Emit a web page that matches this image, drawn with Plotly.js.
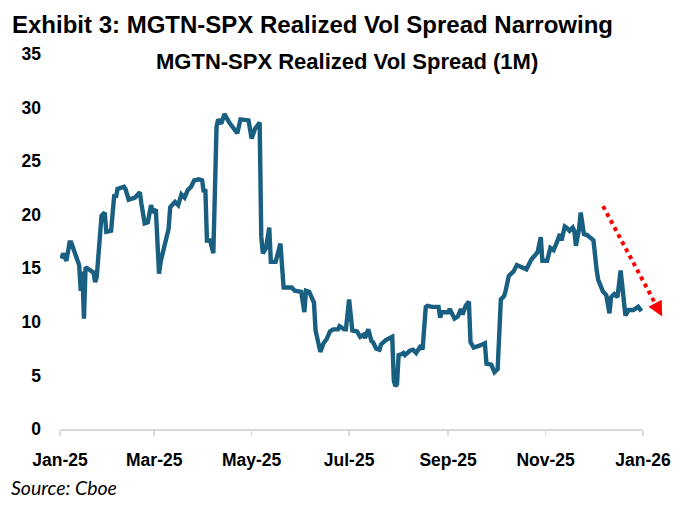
<!DOCTYPE html>
<html>
<head>
<meta charset="utf-8">
<script src="https://cdn.plot.ly/plotly-3.0.1.min.js"></script>
<style>
  html, body { margin: 0; padding: 0; background: #ffffff; }
  #chart { width: 688px; height: 516px; }
</style>
</head>
<body>
<div id="chart"></div>
<script>
// One-month realized vol spread, MGTN minus SPX
const dates = [
  '2025-01-02','2025-01-03','2025-01-05','2025-01-07','2025-01-08','2025-01-11','2025-01-13','2025-01-14',
  '2025-01-15','2025-01-16','2025-01-17','2025-01-20','2025-01-22','2025-01-23','2025-01-24','2025-01-27',
  '2025-01-29','2025-01-30','2025-02-02','2025-02-04','2025-02-05','2025-02-06','2025-02-10','2025-02-11',
  '2025-02-13','2025-02-17','2025-02-20','2025-02-21','2025-02-23','2025-02-25','2025-02-27','2025-02-28',
  '2025-03-02','2025-03-04','2025-03-05','2025-03-10','2025-03-11','2025-03-14','2025-03-16','2025-03-18',
  '2025-03-20','2025-03-22','2025-03-24','2025-03-26','2025-03-29','2025-03-31','2025-04-01','2025-04-02',
  '2025-04-03','2025-04-05','2025-04-07','2025-04-09','2025-04-10','2025-04-12','2025-04-14','2025-04-17',
  '2025-04-22','2025-04-24','2025-04-28','2025-04-29','2025-05-01','2025-05-03','2025-05-06','2025-05-07',
  '2025-05-08','2025-05-10','2025-05-12','2025-05-13','2025-05-16','2025-05-19','2025-05-21','2025-05-26',
  '2025-05-28','2025-06-01','2025-06-03','2025-06-04','2025-06-06','2025-06-09','2025-06-10','2025-06-13',
  '2025-06-15','2025-06-17','2025-06-19','2025-06-21','2025-06-24','2025-06-25','2025-06-28','2025-06-29',
  '2025-07-01','2025-07-03','2025-07-06','2025-07-08','2025-07-10','2025-07-11','2025-07-13','2025-07-15',
  '2025-07-16','2025-07-18','2025-07-20','2025-07-21','2025-07-24','2025-07-28','2025-07-29','2025-07-30',
  '2025-07-31','2025-08-01','2025-08-03','2025-08-04','2025-08-05','2025-08-08','2025-08-10','2025-08-12',
  '2025-08-15','2025-08-16','2025-08-18','2025-08-19','2025-08-22','2025-08-26','2025-08-27','2025-08-28',
  '2025-09-01','2025-09-02','2025-09-05','2025-09-07','2025-09-09','2025-09-10','2025-09-12','2025-09-14',
  '2025-09-15','2025-09-17','2025-09-21','2025-09-24','2025-09-25','2025-09-28','2025-09-30','2025-10-02',
  '2025-10-04','2025-10-06','2025-10-07','2025-10-09','2025-10-12','2025-10-14','2025-10-20','2025-10-23',
  '2025-10-27','2025-10-29','2025-10-30','2025-11-02','2025-11-04','2025-11-06','2025-11-08','2025-11-10',
  '2025-11-11','2025-11-13','2025-11-14','2025-11-16','2025-11-18','2025-11-19','2025-11-20','2025-11-22',
  '2025-11-23','2025-11-25','2025-11-27','2025-12-01','2025-12-03','2025-12-04','2025-12-07','2025-12-09',
  '2025-12-11','2025-12-12','2025-12-14','2025-12-16','2025-12-18','2025-12-21','2025-12-23','2025-12-26',
  '2025-12-29','2025-12-31'
];

const spread = [
  15.9, 16.4, 15.7, 17.4, 17.4, 16.0, 15.3, 12.9,
  14.7, 10.3, 15.1, 14.8, 14.6, 13.7, 14.2, 19.9,
  20.2, 18.4, 18.5, 21.9, 21.6, 22.4, 22.6, 22.4,
  21.4, 21.6, 22.1, 21.0, 19.2, 19.3, 20.9, 20.2,
  20.5, 14.5, 15.6, 18.7, 20.7, 21.2, 20.9, 21.9,
  21.6, 22.3, 22.6, 23.2, 23.3, 23.2, 22.1, 22.4,
  17.6, 17.6, 16.4, 28.2, 28.9, 28.5, 29.4, 28.6,
  27.6, 28.9, 28.9, 28.8, 27.1, 28.0, 28.6, 18.0,
  16.4, 16.9, 18.8, 15.6, 15.6, 17.3, 13.2, 13.2,
  12.9, 12.8, 10.9, 12.9, 12.8, 11.8, 9.2, 7.2,
  8.0, 8.4, 9.1, 9.3, 9.3, 9.6, 9.3, 9.3,
  12.1, 9.2, 9.1, 8.6, 8.8, 8.5, 9.3, 8.2,
  8.1, 7.5, 7.4, 7.9, 8.3, 8.6, 4.5, 4.0,
  4.2, 6.9, 7.0, 7.1, 6.9, 7.3, 7.4, 7.1,
  7.8, 7.4, 11.4, 11.5, 11.4, 11.4, 10.4, 10.9,
  10.9, 11.2, 10.3, 10.5, 11.2, 10.7, 11.5, 11.9,
  8.1, 7.6, 7.8, 8.0, 6.1, 6.0, 5.3, 5.6,
  12.1, 12.4, 12.9, 14.3, 14.7, 15.3, 14.9, 15.8,
  16.5, 17.9, 15.7, 15.7, 16.9, 16.7, 17.4, 18.2,
  17.6, 18.9, 18.8, 18.5, 18.8, 18.5, 17.1, 18.7,
  20.2, 18.2, 18.1, 17.6, 14.8, 13.9, 12.8, 12.5,
  10.8, 12.3, 12.6, 12.3, 14.8, 10.6, 11.1, 11.1,
  11.4, 11.0
];

const xRange = ['2025-01-01', '2026-01-01'];
const yRange = [0, 35];

// Trend arrow (dotted, pointing down-right), start and tip in data terms
const trendStart = { date: '2025-12-07', value: 20.8 };
const trendTip = { date: '2026-01-13', value: 10.5 };

const W = 688, H = 516;
const margin = { l: 60, r: 45, t: 54, b: 87, pad: 0 };
const plotW = W - margin.l - margin.r;
const plotH = H - margin.t - margin.b;

const t0 = Date.parse(xRange[0]);
const t1 = Date.parse(xRange[1]);
function toPaperX(d) { return (Date.parse(d) - t0) / (t1 - t0); }
function toPaperY(v) { return (v - yRange[0]) / (yRange[1] - yRange[0]); }

// arrow geometry in pixels, then mapped back to paper space
const sx = toPaperX(trendStart.date) * plotW, sy = toPaperY(trendStart.value) * plotH;
const tx = toPaperX(trendTip.date) * plotW, ty = toPaperY(trendTip.value) * plotH;
const len = Math.hypot(tx - sx, ty - sy);
const ux = (tx - sx) / len, uy = (ty - sy) / len;
const headLen = 15, headHalf = 7.5;
const bx = tx - ux * headLen, by = ty - uy * headLen;
const px = -uy * headHalf, py = ux * headHalf;
const P = (x, y) => (x / plotW).toFixed(4) + ',' + (y / plotH).toFixed(4);
const headPath = 'M' + P(tx, ty) + ' L' + P(bx + px, by + py) + ' L' + P(bx - px, by - py) + ' Z';

const lineColor = '#195f81';
const tickFont = { family: 'Liberation Sans, Arial, sans-serif', size: 17.5, color: '#000000', weight: 700 };

const traces = [{
  type: 'scatter',
  mode: 'lines',
  x: dates,
  y: spread,
  line: { color: lineColor, width: 4.4, shape: 'linear' },
  hoverinfo: 'x+y',
  showlegend: false
}];

const layout = {
  width: W,
  height: H,
  margin: margin,
  paper_bgcolor: '#ffffff',
  plot_bgcolor: '#ffffff',
  showlegend: false,
  title: {
    text: 'Exhibit 3: MGTN-SPX Realized Vol Spread Narrowing',
    xref: 'container', yref: 'container',
    x: 12 / W, xanchor: 'left',
    y: 1 - 25 / H, yanchor: 'middle',
    font: { family: 'Liberation Sans, Arial, sans-serif', size: 24, color: '#000000', weight: 700 }
  },
  xaxis: {
    type: 'date',
    range: xRange,
    tick0: '2025-01-01',
    dtick: 'M2',
    tickformat: '%b-%y',
    showgrid: false,
    zeroline: false,
    showline: true,
    linecolor: '#d9d9d9',
    linewidth: 1.5,
    ticks: 'outside',
    ticklen: 5,
    tickwidth: 1.5,
    tickcolor: '#d9d9d9',
    ticklabelstandoff: 9,
    tickfont: tickFont,
    fixedrange: true
  },
  yaxis: {
    range: yRange,
    dtick: 5,
    tick0: 0,
    showgrid: false,
    zeroline: false,
    showline: false,
    ticks: '',
    ticklabelstandoff: 18,
    tickfont: tickFont,
    fixedrange: true
  },
  annotations: [
    {
      text: 'MGTN-SPX Realized Vol Spread (1M)',
      xref: 'paper', yref: 'paper',
      x: 0.492, xanchor: 'center',
      y: 0.979, yanchor: 'middle',
      showarrow: false,
      font: { family: 'Liberation Sans, Arial, sans-serif', size: 22, color: '#000000', weight: 700 }
    },
    {
      text: 'Source: Cboe',
      xref: 'paper', yref: 'paper',
      x: (9 - margin.l) / plotW, xanchor: 'left',
      y: -(487 - (H - margin.b)) / plotH, yanchor: 'middle',
      showarrow: false,
      font: { family: 'Lato, Open Sans, sans-serif', size: 19.5, color: '#000000', style: 'italic' }
    }
  ],
  shapes: [
    {
      type: 'line',
      xref: 'paper', yref: 'paper',
      x0: sx / plotW, y0: sy / plotH,
      x1: bx / plotW, y1: by / plotH,
      line: { color: '#ff0000', width: 4, dash: 'dot' },
      layer: 'above'
    },
    {
      type: 'path',
      xref: 'paper', yref: 'paper',
      path: headPath,
      fillcolor: '#ff0000',
      line: { width: 0 },
      layer: 'above'
    }
  ]
};

Plotly.newPlot('chart', traces, layout, { displayModeBar: false, staticPlot: true });
</script>
</body>
</html>
